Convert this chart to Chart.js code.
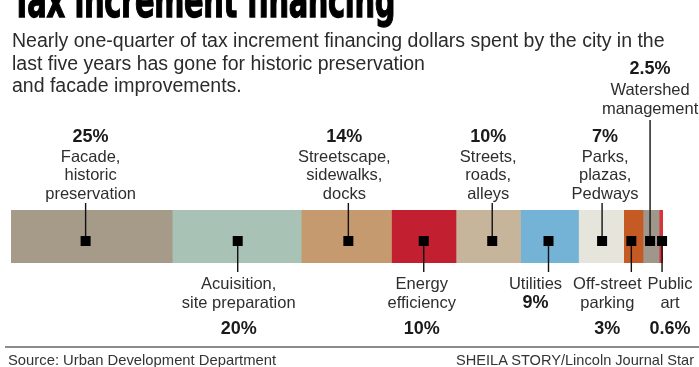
<!DOCTYPE html>
<html><head><meta charset="utf-8">
<script src="https://cdn.jsdelivr.net/npm/chart.js@4.4.1/dist/chart.umd.min.js"></script>
<style>
html,body{margin:0;padding:0;background:#fff;}
#wrap{position:relative;width:699px;height:367px;overflow:hidden;background:#fff;}
#c{position:absolute;left:0;top:0;}
.t{position:absolute;white-space:nowrap;font-family:"Liberation Sans",Arial,sans-serif;}
.bl{display:inline-block;width:0;height:0;vertical-align:baseline;}
#title{left:12px;top:0;font-family:"DejaVu Sans Condensed","Liberation Sans Narrow",sans-serif;font-weight:bold;font-size:48px;line-height:48px;color:#000;transform-origin:0 0;-webkit-text-stroke:1.3px #000;letter-spacing:-0.5px;}
#sub{left:12px;top:0;font-size:19.5px;line-height:22.6px;color:#2b2b2b;}
#rule{position:absolute;left:5px;right:0;top:346px;height:2px;background:#8c8c8c;}
#src{left:8px;top:0;font-size:14.8px;line-height:16px;color:#333;}
#credit{right:5px;top:0;font-size:14.6px;line-height:16px;color:#333;}
</style></head>
<body>
<div id="wrap">
<canvas id="c" width="699" height="367"></canvas>
<div class="t" id="title"><span class="bl"></span>Tax increment financing</div>
<div class="t" id="sub"><span class="bl"></span>Nearly one-quarter of tax increment financing dollars spent by the city in the<br>last five years has gone for historic preservation<br>and facade improvements.</div>
<div id="rule"></div>
<div class="t" id="src"><span class="bl"></span>Source: Urban Development Department</div>
<div class="t" id="credit"><span class="bl"></span>SHEILA STORY/Lincoln Journal Star</div>
</div>
<script>
// ---- data ----
const categories = ['Facade, historic preservation','Acuisition, site preparation','Streetscape, sidewalks, docks','Energy efficiency','Streets, roads, alleys','Utilities','Parks, plazas, Pedways','Off-street parking','Watershed management','Public art'];
const values = [25, 20, 14, 10, 10, 9, 7, 3, 2.5, 0.6];
const percentLabels = ['25%','20%','14%','10%','10%','9%','7%','3%','2.5%','0.6%'];
const labelLines = [
  ['Facade,','historic','preservation'],
  ['Acuisition,','site preparation'],
  ['Streetscape,','sidewalks,','docks'],
  ['Energy','efficiency'],
  ['Streets,','roads,','alleys'],
  ['Utilities'],
  ['Parks,','plazas,','Pedways'],
  ['Off-street','parking'],
  ['Watershed','management'],
  ['Public','art']
];

// ---- styles / layout ----
const colors = ['#a69a88','#a9c2b6','#c49a6e','#c21f30','#c7b59b','#75b3d6','#e6e5dc','#c55a25','#9f978b','#d8333b'];
const side = ['up','down','up','down','up','down','up','down','up','down'];
const markerShift = [-6,1,2,0,4,-1,1,-2,-1,1];
const labelShift = [-1,2,-2,-2,0,-14,4,-26,-1,9];
const total = values.reduce((a,b)=>a+b,0);

function placeBaseline(id, y){
  const el = document.getElementById(id);
  const b = el.querySelector('.bl').offsetTop;
  el.style.top = (y - b) + 'px';
}
const title = document.getElementById('title');
const tw = title.getBoundingClientRect().width;
title.style.transform = 'scaleX(' + (383/tw) + ')';
placeBaseline('title', 17);
placeBaseline('sub', 47);
placeBaseline('src', 365);
placeBaseline('credit', 365);

const labelPlugin = {
  id:'labels',
  afterDatasetsDraw(chart){
    const ctx = chart.ctx;
    ctx.save();
    chart.data.datasets.forEach((ds,i)=>{
      const el = chart.getDatasetMeta(i).data[0];
      const cx = (el.x + el.base)/2;
      const mx = cx + markerShift[i];
      const my = el.y + 4.5;
      const lx = cx + labelShift[i];
      const lines = labelLines[i];
      const n = lines.length;
      const isW = (i === 8);
      ctx.strokeStyle = '#111';
      ctx.lineWidth = 1.4;
      ctx.beginPath();
      if (side[i]==='up') { ctx.moveTo(mx, my); ctx.lineTo(mx, isW ? 120 : 203); }
      else { ctx.moveTo(mx, my); ctx.lineTo(mx, 272); }
      ctx.stroke();
      ctx.fillStyle = '#000';
      ctx.fillRect(mx-5, my-5, 10, 10);
      ctx.textAlign = 'center';
      ctx.textBaseline = 'alphabetic';
      const lf = '16.5px "Liberation Sans", Arial, sans-serif';
      const pf = 'bold 18px "Liberation Sans", Arial, sans-serif';
      if (side[i]==='up') {
        const bottom = isW ? 114 : 198.5;
        const step = isW ? 19 : 18.5;
        const gap = isW ? 21 : 19.5;
        ctx.font = lf; ctx.fillStyle = '#2e2e2e';
        lines.forEach((t,k)=>{ ctx.fillText(t, lx, bottom - (n-1-k)*step); });
        ctx.font = pf; ctx.fillStyle = '#1a1a1a';
        ctx.fillText(percentLabels[i], lx, bottom - (n-1)*step - gap);
      } else {
        ctx.font = lf; ctx.fillStyle = '#2e2e2e';
        lines.forEach((t,k)=>{ ctx.fillText(t, lx, 289 + k*18.5); });
        ctx.font = pf; ctx.fillStyle = '#1a1a1a';
        const py = n===1 ? 308 : 289 + (n-1)*18.5 + 26;
        ctx.fillText(percentLabels[i], lx, py);
      }
    });
    ctx.restore();
  }
};

new Chart(document.getElementById('c'), {
  type:'bar',
  data:{
    labels:['TIF'],
    datasets: values.map((v,i)=>({label:categories[i], data:[v], backgroundColor:colors[i], borderWidth:0, barPercentage:1, categoryPercentage:1}))
  },
  options:{
    indexAxis:'y',
    responsive:false,
    animation:false,
    devicePixelRatio:1,
    layout:{padding:{left:11,right:36,top:210,bottom:104}},
    scales:{
      x:{stacked:true,min:0,max:total,display:false},
      y:{stacked:true,display:false}
    },
    plugins:{legend:{display:false},tooltip:{enabled:false},title:{display:false}}
  },
  plugins:[labelPlugin]
});
</script>
</body></html>
